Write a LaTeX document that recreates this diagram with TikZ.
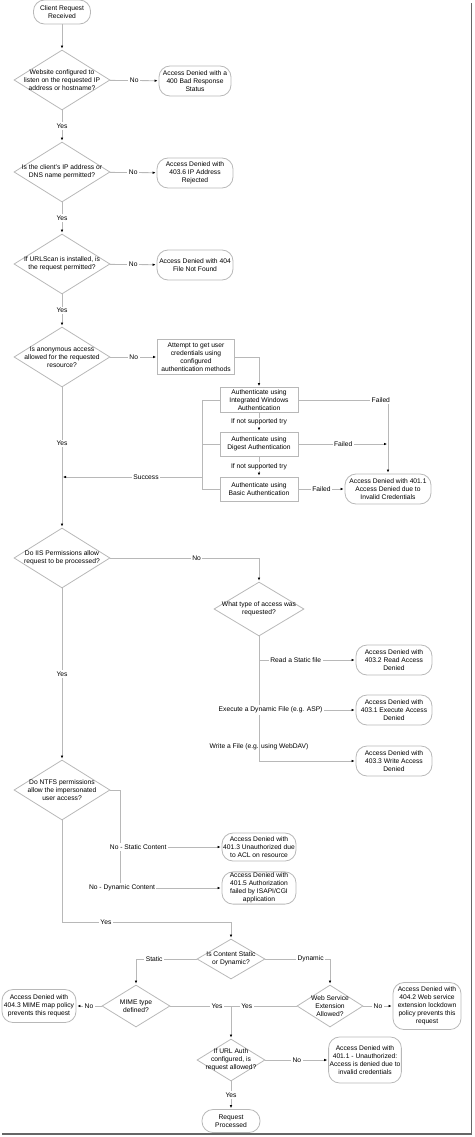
\documentclass[tikz,border=0pt]{standalone}
\usepackage{fontspec}
\setmainfont{Liberation Sans}
\usetikzlibrary{shapes.geometric,arrows.meta}
\definecolor{trait}{gray}{0.72}
\newcommand{\myfont}{\fontsize{6.7}{8}\selectfont}
\tikzset{
    node style dec/.style={draw=trait,diamond,inner sep=0pt,%
        minimum width=96pt,minimum height=60pt,%
        label={[align=center,inner sep=0pt]center:{#1}}},
    node style fin/.style={draw=trait,rectangle,rounded corners=11pt,%
        align=center,inner sep=1pt,minimum width=76pt,minimum height=30pt},
    node style act/.style={draw=trait,rectangle,align=center,%
        inner sep=1pt,minimum width=78pt,minimum height=25pt},
    arrow style fl/.style={draw=trait,->,shorten >=1pt},
    arrow style lab/.style={midway,fill=white,inner sep=1.5pt},
}

\begin{document}
\begin{tikzpicture}[>={Latex[length=3pt,width=2.6pt,color=black]},%
x=1pt,y=-1pt,font=\myfont,line width=0.8pt]
\useasboundingbox (0,0) rectangle (474,1137);
% colonne principale
\node[node style fin,minimum width=57pt,minimum height=24pt] (debut) at (62,12)
{Client Request\\Received};
\node[node style dec={Website configured to\\listen on the requested IP\\address or hostname?}] (d1) at (62,80) {};
\node[node style dec={Is the client's IP address or\\DNS name permitted?}] (d2) at (62,172) {};
\node[node style dec={If URLScan is installed, is\\the request permitted?}] (d3) at (62,264) {};
\node[node style dec={Is anonymous access\\allowed for the requested\\resource?}] (d4) at (62,357) {};
\node[node style dec={Do IIS Permissions allow\\request to be processed?}] (d5) at (62,558) {};
\node[node style dec={Do NTFS permissions\\allow the impersonated\\user access?}] (d7) at (62,790) {};

% refus
\node[node style fin,minimum width=72pt] (f1) at (195,81)
{Access Denied with a\\400 Bad Response\\Status};
\node[node style fin] (f2) at (195,173) {Access Denied with\\403.6 IP Address\\Rejected};
\node[node style fin] (f3) at (195,265) {Access Denied with 404\\File Not Found};

% authentification
\node[node style act,minimum width=77pt,minimum height=35pt] (a0) at (196,357)
{Attempt to get user\\credentials using\\configured\\authentication methods};
\node[node style act] (a1) at (259,400) {Authenticate using\\Integrated Windows\\Authentication};
\node[node style act,minimum height=24pt] (a2) at (259,444) {Authenticate using\\Digest Authentication};
\node[node style act,minimum height=24pt] (a3) at (259,489) {Authenticate using\\Basic Authentication};
\node[node style fin,minimum width=86pt] (f4) at (388,489)
{Access Denied with 401.1\\Access Denied due to\\Invalid Credentials};
\coordinate (s1) at (202,477);
\coordinate (s0) at (62,477);

% type d'acces
\node[node style dec={What type of access was\\requested?},minimum width=90pt,minimum height=54pt] (d6) at (259,609) {};
\node[node style fin] (f5) at (394,660) {Access Denied with\\403.2 Read Access\\Denied};
\node[node style fin] (f6) at (394,710) {Access Denied with\\403.1 Execute Access\\Denied};
\node[node style fin] (f7) at (394,761) {Access Denied with\\403.3 Write Access\\Denied};

% NTFS
\node[node style fin,minimum width=74pt,minimum height=28pt] (f8) at (259,847)
{Access Denied with\\401.3 Unauthorized due\\to ACL on resource};
\node[node style fin,minimum width=74pt,minimum height=32pt] (f9) at (259,888)
{Access Denied with\\401.5 Authorization\\failed by ISAPI/CGI\\application};
\coordinate (n1) at (120,790);
\coordinate (y7) at (62,922);

% contenu
\node[node style dec={Is Content Static\\or Dynamic?},minimum width=68pt,minimum height=40pt] (d8) at (231,959) {};
\node[node style dec={MIME type\\defined?},minimum width=68pt,minimum height=42pt] (d9) at (136,1006) {};
\node[node style dec={Web Service\\Extension\\Allowed?},minimum width=66pt,minimum height=42pt] (d10) at (330,1006) {};
\node[node style fin,minimum width=74pt,minimum height=33pt] (f10) at (39,1006)
{Access Denied with\\404.3 MIME map policy\\prevents this request};
\node[node style fin,minimum width=68pt,minimum height=47pt] (f11) at (427,1006)
{Access Denied with\\404.2 Web service\\extension lockdown\\policy prevents this\\request};
\coordinate (j1) at (231,1006);
\node[node style dec={If URL Auth\\configured, is\\request allowed?},minimum width=68pt,minimum height=42pt] (d11) at (231,1060) {};
\node[node style fin,minimum width=70pt,minimum height=46pt] (f12) at (365,1060)
{Access Denied with\\401.1 - Unauthorized:\\Access is denied due to\\invalid credentials};
\node[node style fin,minimum width=58pt,minimum height=23pt] (fin) at (231,1121)
{Request\\Processed};

% les fleches
\draw[arrow style fl] (debut) -- (d1);
\draw[arrow style fl] (d1) -- node[arrow style lab] {No} (f1);
\draw[arrow style fl] (d1) -- node[arrow style lab] {Yes} (d2);
\draw[arrow style fl] (d2) -- node[arrow style lab] {No} (f2);
\draw[arrow style fl] (d2) -- node[arrow style lab] {Yes} (d3);
\draw[arrow style fl] (d3) -- node[arrow style lab] {No} (f3);
\draw[arrow style fl] (d3) -- node[arrow style lab] {Yes} (d4);
\draw[arrow style fl] (d4) -- node[arrow style lab] {No} (a0);
\draw[arrow style fl] (d4) -- node[arrow style lab,pos=0.4] {Yes} (d5);
\draw[arrow style fl] (d5) -- node[arrow style lab] {Yes} (d7);

\draw[arrow style fl] (a0.east) -| (a1.north);
\draw[arrow style fl] (a1) -- node[arrow style lab] {If not supported try} (a2);
\draw[arrow style fl] (a2) -- node[arrow style lab] {If not supported try} (a3);
\draw[arrow style fl] (a1.east) -| node[arrow style lab,pos=0.46] {Failed} (f4.north);
\draw[arrow style fl] (a2.east) -- node[arrow style lab] {Failed} (a2.east -| f4.north);
\draw[arrow style fl] (a3.east) -- node[arrow style lab] {Failed} (f4.west);
\draw[draw=trait] (a1.west) -- (a1.west -| s1) -- (a3.west -| s1) -- (a3.west);
\draw[draw=trait] (a2.west) -- (a2.west -| s1);
\draw[arrow style fl] (s1) -- node[arrow style lab,pos=0.4] {Success} (s0);

\draw[arrow style fl] (d5.east) -| node[arrow style lab,pos=0.29] {No} (d6.north);
\draw[arrow style fl] (d6.south) -- (d6.south |- f7.west)
node[above=7pt] {Write a File (e.g. using WebDAV)} -- (f7.west);
\draw[arrow style fl] (d6.south |- f5.west) -- node[arrow style lab,pos=0.38] {Read a Static file} (f5.west);
\draw[arrow style fl] (d6.south |- f6.west) -- node[arrow style lab,pos=0.12] {Execute a Dynamic File (e.g. ASP)} (f6.west);

\draw[draw=trait] (d7.east) -- (n1);
\draw[arrow style fl] (n1) |- node[arrow style lab,pos=0.51] {No - Dynamic Content} (f9.west);
\draw[arrow style fl] (n1 |- f8.west) -- node[arrow style lab,pos=0.18] {No - Static Content} (f8.west);
\draw[arrow style fl] (d7.south) -- (y7) -| node[arrow style lab,pos=0.13] {Yes} (d8.north);

\draw[arrow style fl] (d8.west) -| node[arrow style lab,pos=0.35] {Static} (d9.north);
\draw[arrow style fl] (d8.east) -| node[arrow style lab,pos=0.35] {Dynamic} (d10.north);
\draw[arrow style fl] (d9.west) -- node[arrow style lab] {No} (f10.east);
\draw[arrow style fl] (d10.east) -- node[arrow style lab] {No} (f11.west);
\draw[draw=trait] (d9.east) -- node[arrow style lab,pos=0.77] {Yes} (j1);
\draw[draw=trait] (d10.west) -- node[arrow style lab,pos=0.76] {Yes} (j1);
\draw[arrow style fl] (j1) -- (d11.north);
\draw[arrow style fl] (d11.east) -- node[arrow style lab] {No} (f12.west);
\draw[arrow style fl] (d11.south) -- node[arrow style lab] {Yes} (fin.north);

% cadre
\draw[line width=1.2pt,black!60] (2,1134) -- (471.5,1134) -- (471.5,3);
\end{tikzpicture}
\end{document}
